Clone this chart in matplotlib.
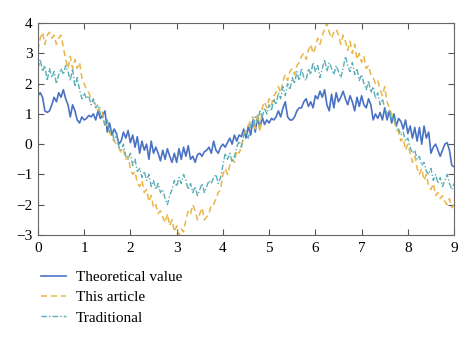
import numpy as np
import matplotlib
matplotlib.use("Agg")
import matplotlib.pyplot as plt

plt.rcParams["font.family"] = ["Liberation Serif", "DejaVu Serif"]

x = np.round(np.arange(0, 9.0001, 0.05), 2)

theoretical = [
    1.6, 1.7, 1.55, 1.1, 1.05, 1.1, 1.3, 1.55, 1.4, 1.7,
    1.55, 1.8, 1.5, 1.3, 0.9, 1.3, 1.1, 0.8, 0.7, 0.9,
    0.8, 0.85, 0.95, 0.9, 1.0, 0.8, 1.1, 0.85, 0.95, 1.1,
    0.4, 0.7, 0.3, 0.5, 0.35, 0.0, 0.1, 0.4, 0.2, 0.45,
    0.05, 0.3, -0.1, 0.25, -0.3, 0.1, -0.2, 0.0, -0.5, 0.1,
    -0.3, -0.1, -0.3, -0.55, -0.2, -0.5, -0.15, -0.4, -0.6, -0.3,
    -0.6, -0.15, -0.5, -0.1, -0.4, -0.05, -0.5, -0.4, -0.6, -0.35,
    -0.3, -0.4, -0.25, -0.2, -0.1, -0.3, 0.1, -0.2, -0.3, -0.1,
    0.0, -0.1, 0.05, 0.2, 0.0, 0.3, 0.1, 0.3, 0.25, 0.5,
    0.2, 0.6, 0.3, 0.8, 0.4, 0.95, 0.5, 0.9, 0.65, 0.8,
    0.7, 0.85, 0.8, 0.9, 1.1, 0.9, 1.2, 1.4, 0.9, 0.8,
    0.8, 0.9, 1.1, 1.2, 1.2, 1.4, 1.5, 1.25, 1.4, 1.2,
    1.6, 1.5, 1.75, 1.55, 1.8, 1.3, 1.1, 1.65, 1.2, 1.7,
    1.4, 1.55, 1.75, 1.5, 1.3, 1.6, 1.4, 1.1, 1.55, 1.25,
    1.6, 1.3, 1.2, 1.5, 1.3, 0.8, 1.0, 0.85, 1.05, 0.8,
    1.2, 0.8, 1.1, 0.7, 1.0, 0.6, 0.85, 0.75, 0.5, 0.8,
    0.35, 0.6, 0.2, 0.55, 0.1, 0.55, 0.0, 0.6, 0.2, 0.4,
    -0.3, -0.1, 0.0, -0.2, -0.4, -0.2, 0.0, 0.05, -0.2, -0.7,
    -0.75,
]

this_article = [
    3.1, 3.5, 3.7, 3.3, 3.6, 3.7, 3.5, 3.6, 3.3, 3.5,
    3.6, 3.2, 2.8, 2.5, 2.9, 2.5, 2.8, 2.5, 2.7, 2.2,
    2.0, 1.8, 1.7, 1.5, 1.4, 1.3, 1.1, 1.2, 1.0, 0.7,
    0.6, 0.4, 0.2, 0.1, 0.0, -0.1, -0.3, -0.2, -0.5, -0.4,
    -0.8, -1.0, -0.9, -1.3, -1.4, -1.2, -1.6, -1.5, -1.9, -1.7,
    -2.1, -2.0, -2.3, -2.2, -2.4, -2.6, -2.3, -2.7, -2.5, -2.9,
    -2.7, -3.0, -2.8, -2.9, -2.5, -2.2, -2.3, -2.0, -2.2, -2.5,
    -2.3, -2.1, -2.5, -2.4, -2.3, -2.0, -2.0, -1.8, -1.6, -1.5,
    -1.0, -0.8, -1.0, -0.7, -0.5, -0.6, -0.2, -0.3, -0.1, 0.3,
    0.5, 0.6, 0.8, 0.9, 0.5, 1.0, 0.4, 1.2, 1.4, 1.2,
    1.5, 1.3, 1.6, 1.7, 1.9, 1.7, 2.1, 2.3, 2.1, 2.4,
    2.5, 2.3, 2.6, 2.7, 2.9, 3.0, 2.8, 3.1, 3.3, 3.0,
    3.2, 3.5, 3.3, 3.6, 3.8, 4.0, 3.7, 3.5, 3.7, 3.8,
    3.6, 3.3, 3.6, 3.4, 3.1, 3.4, 3.0, 3.3, 2.8, 3.0,
    2.7, 2.9, 2.5, 2.6, 2.3, 2.2, 2.0, 2.1, 1.8, 1.6,
    1.9, 1.4, 1.2, 1.0, 0.8, 0.5, 0.4, 0.1, 0.2, -0.2,
    0.0, -0.3, -0.6, -0.4, -0.8, -1.0, -0.8, -1.2, -1.0, -1.4,
    -1.5, -1.3, -1.7, -1.6, -1.8, -1.7, -1.9, -2.0, -1.8, -2.1,
    -2.0,
]

traditional = [
    2.5, 2.8, 2.4, 2.6, 2.1, 2.5, 2.2, 2.4, 2.0, 2.3,
    2.5, 2.3, 2.6, 2.4, 2.1, 2.5, 1.9, 2.2, 1.8, 1.5,
    1.7, 1.5, 1.6, 1.3, 1.5, 1.2, 1.3, 1.0, 0.9, 0.6,
    0.8, 0.4, 0.5, 0.1, 0.3, -0.1, -0.2, 0.0, -0.4, -0.5,
    -0.3, -0.7, -0.5, -0.9, -0.8, -1.1, -0.9, -1.2, -1.0, -1.4,
    -1.2, -1.5, -1.3, -1.6, -1.5, -1.8, -2.0, -1.7, -1.5, -1.2,
    -1.4, -1.1, -1.3, -1.0, -1.2, -1.5, -1.3, -1.6, -1.4, -1.7,
    -1.5, -1.3, -1.6, -1.4, -1.2, -1.3, -1.1, -1.0, -1.3, -1.1,
    -0.7, -0.3, -0.5, -0.3, -0.6, -0.4, -0.1, 0.1, -0.1, 0.3,
    0.4, 0.2, 0.7, 0.6, 0.9, 0.7, 1.1, 0.9, 1.2, 1.0,
    1.3, 1.1, 1.5, 1.3, 1.7, 1.5, 1.9, 1.6, 2.0, 1.8,
    2.2, 2.0, 2.4, 2.1, 2.5, 2.2, 2.1, 2.5, 2.3, 2.7,
    2.4, 2.6, 2.2, 2.5, 2.8, 2.4, 2.7, 2.5, 2.3, 2.6,
    2.4, 2.2, 2.5, 2.9, 2.6, 2.4, 2.7, 2.3, 2.5, 2.1,
    2.3, 2.0, 1.8, 2.1, 1.7, 1.9, 1.5, 1.7, 1.3, 1.5,
    1.2, 1.0, 1.1, 0.8, 0.9, 0.6, 0.5, 0.3, 0.4, 0.1,
    0.2, -0.1, -0.3, -0.2, -0.5, -0.4, -0.7, -0.6, -0.9, -1.0,
    -0.8, -1.2, -1.0, -1.3, -1.1, -1.4, -1.2, -1.0, -1.3, -1.5,
    -1.3,
]

series_labels = ["Theoretical value", "This article", "Traditional"]
x_ticks = list(range(0, 10))
y_ticks = list(range(-3, 5))

fig = plt.figure(figsize=(4.74, 3.40), dpi=100)
ax = fig.add_axes([0.080, 0.309, 0.878, 0.623])

ax.plot(x, theoretical, color="#4a72c4", lw=1.2, ls="-", label=series_labels[0])
ax.plot(x, this_article, color="#e8b64a", lw=1.1, ls=(0, (4, 2.5)), label=series_labels[1])
ax.plot(x, traditional, color="#5aaeb4", lw=1.0, ls=(0, (4, 1.5, 1, 1.5)), label=series_labels[2])

ax.set_xlim(0, 9)
ax.set_ylim(-3, 4)
ax.set_xticks(x_ticks)
ax.set_yticks(y_ticks)
ax.set_yticklabels([str(v).replace("-", "\u2212") for v in y_ticks])
ax.tick_params(direction="in", top=True, right=True, length=4, width=0.8,
               color="#555555", labelsize=11)
ax.tick_params(axis="x", pad=5)
ax.tick_params(axis="y", pad=4)
for sp in ax.spines.values():
    sp.set_color("#666666")
    sp.set_linewidth(0.8)

handles, labels = ax.get_legend_handles_labels()
fig.legend(handles, labels, loc="upper left", bbox_to_anchor=(0.073, 0.222),
           frameon=False, fontsize=11, handlelength=1.65, handletextpad=0.65,
           labelspacing=0.42, borderaxespad=0)

fig.savefig("out.png", dpi=100)
